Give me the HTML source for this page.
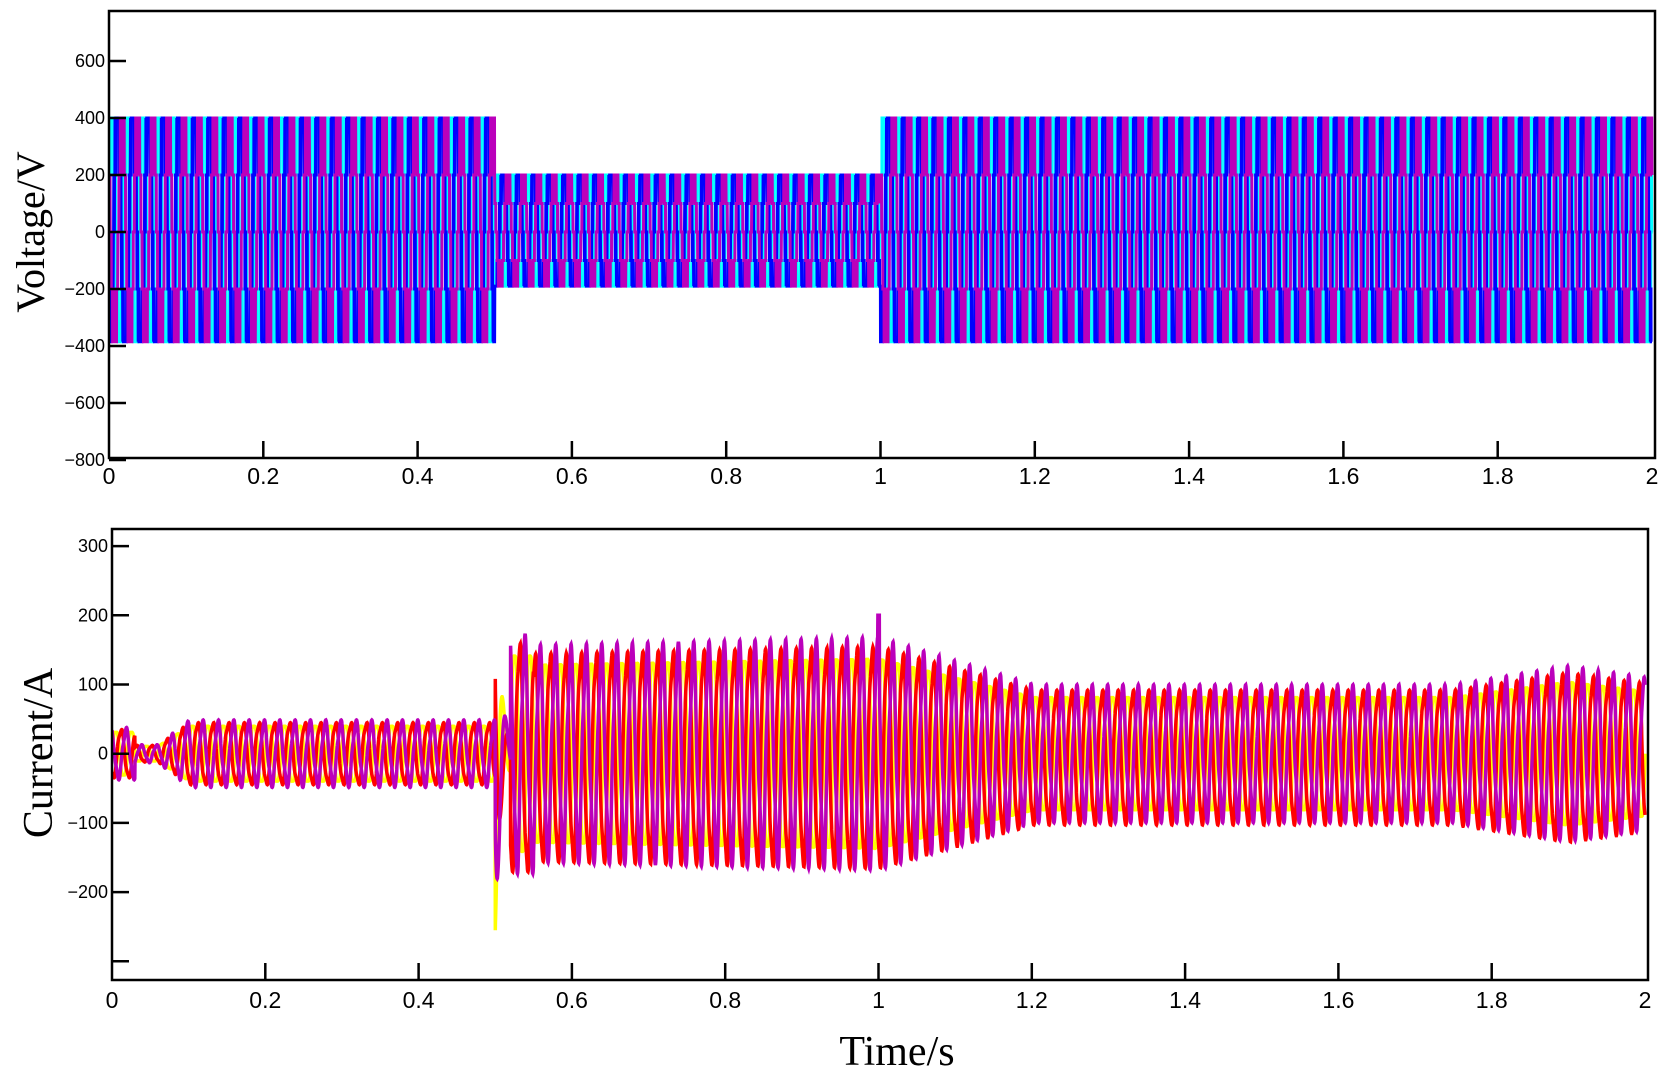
<!DOCTYPE html>
<html><head><meta charset="utf-8"><style>
html,body{margin:0;padding:0;background:#fff;width:1669px;height:1087px;overflow:hidden}
svg text{font-family:"Liberation Sans",sans-serif;fill:#000}
</style></head><body>
<svg id="s" width="1669" height="1087" xmlns="http://www.w3.org/2000/svg">
<defs>
<clipPath id="c1"><rect x="109" y="11" width="1546" height="447"/></clipPath>
<clipPath id="c2"><rect x="112" y="529" width="1536" height="451"/></clipPath>
</defs>
<g id="g1" clip-path="url(#c1)"></g>
<g id="g2" clip-path="url(#c2)"></g>
<g id="ax" stroke="#000" stroke-width="2.5" fill="none">
<rect x="109" y="11" width="1546" height="447"/>
<rect x="112" y="529" width="1536" height="451"/>
</g>
<g id="lab"></g>
<text x="44" y="232" font-size="40" text-anchor="middle" transform="rotate(-90 44 232)" style="font-family:'Liberation Serif',serif">Voltage/V</text>
<text x="52" y="753" font-size="42" text-anchor="middle" transform="rotate(-90 52 753)" style="font-family:'Liberation Serif',serif">Current/A</text>
<text x="897" y="1065" font-size="42" text-anchor="middle" style="font-family:'Liberation Serif',serif">Time/s</text>
</svg>
<script>
var NS="http://www.w3.org/2000/svg";
function el(p,n,a,t){var e=document.createElementNS(NS,n);for(var k in a)e.setAttribute(k,a[k]);if(t!=null)e.textContent=t;p.appendChild(e);return e;}
var lab=document.getElementById('lab'),ax=document.getElementById('ax');
var L1=109,R1=1655,T1=11,B1=458;
function vy(v){return 232-v*(232-118)/400;}
[600,400,200,0,-200,-400,-600,-800].forEach(function(v){
 var y=vy(v);el(ax,'line',{x1:L1,y1:y,x2:L1+17,y2:y});
 el(lab,'text',{x:L1-4,y:y+6,'font-size':18,'text-anchor':'end'},(v<0?'\u2212'+(-v):v));
});
for(var i=0;i<=10;i++){var x=L1+(R1-3-L1)*i/10;if(i>0&&i<10)el(ax,'line',{x1:x,y1:B1,x2:x,y2:B1-17});
 el(lab,'text',{x:x,y:484,'font-size':23,'text-anchor':'middle'},(i==0?'0':i==5?'1':i==10?'2':(i/5).toFixed(1)));}
var L2=112,R2=1648,T2=529,B2=980;
function cy(v){return 753.7-v*0.692;}
[300,200,100,0,-100,-200,-300].forEach(function(v){
 var y=cy(v);el(ax,'line',{x1:L2,y1:y,x2:L2+17,y2:y});
 if(v>-300)el(lab,'text',{x:L2-4,y:y+6,'font-size':18,'text-anchor':'end'},(v<0?'\u2212'+(-v):v));
});
for(var i=0;i<=10;i++){var x=L2+(R2-3-L2)*i/10;if(i>0&&i<10)el(ax,'line',{x1:x,y1:B2,x2:x,y2:B2-17});
 el(lab,'text',{x:x,y:1008,'font-size':23,'text-anchor':'middle'},(i==0?'0':i==5?'1':i==10?'2':(i/5).toFixed(1)));}
var g1=document.getElementById('g1');
var cols1=['#00ffff','#0000ff','#bb00bb'];
function tx1(t){return L1+t*(R1-3-L1)/2;}
function tri(t,f){var x=(t*f)%1;return x<0.5?4*x-1:3-4*x;}
for(var p=0;p<3;p++){
 var d='',N=12000;
 for(var k=0;k<=N;k++){var t=2*k/N;
  var A=(t>=0.5&&t<1)?200:400, lo=(t>=0.5&&t<1)?-190:-385;
  var s=Math.sin(2*Math.PI*50*t-p*2*Math.PI/3+0.3);
  var q=Math.floor(s*2+0.5+0.45*tri(t+p*0.0007,650))/2;
  q=Math.max(-1,Math.min(1,q));
  var v=Math.max(lo,Math.min(A,q*A));
  d+=(k?'L':'M')+tx1(t).toFixed(1)+' '+vy(v).toFixed(1);}
 el(g1,'path',{d:d,stroke:cols1[p],'stroke-width':3,fill:'none'});
}
var g2=document.getElementById('g2');
var cols2=['#ffff00','#ff0000','#bb00bb'];
function tx2(t){return L2+t*(R2-3-L2)/2;}
function env(t){
 if(t<0.03)return 35; if(t<0.06)return 12; if(t<0.1)return 12+(t-0.06)/0.04*32; if(t<0.5)return 45;
 if(t<0.55)return 160; if(t<1.0)return 145+(t-0.55)/0.45*10;
 if(t<1.2)return 155-(t-1)/0.2*62; if(t<1.75)return 92; if(t<1.9)return 92+(t-1.75)/0.15*25; return 117-(t-1.9)/0.1*15;}
for(var p=0;p<3;p++){
 var d='',N=8000;
 for(var k=0;k<=N;k++){var t=2*k/N;
  var A=env(t);
  var ph=2*Math.PI*50*t-p*2*Math.PI/3;
  var v=A*(Math.sin(ph)+0.12*Math.sin(3*ph+p));
  if(p==1&&t>0.5)v-=12*Math.max(0,-Math.sin(ph));
  if(t>=0.5&&t<0.52){var sp=[-255,200,260][p];v=sp*Math.exp(-(t-0.5)*120)*Math.cos(2*Math.PI*50*(t-0.5)+p);}
  if(p==2&&Math.abs(t-1)<0.001)v=200;
  d+=(k?'L':'M')+tx2(t).toFixed(1)+' '+cy(v).toFixed(1);}
 el(g2,'path',{d:d,stroke:cols2[p],'stroke-width':3.5,fill:'none'});
}
</script>
</body></html>
